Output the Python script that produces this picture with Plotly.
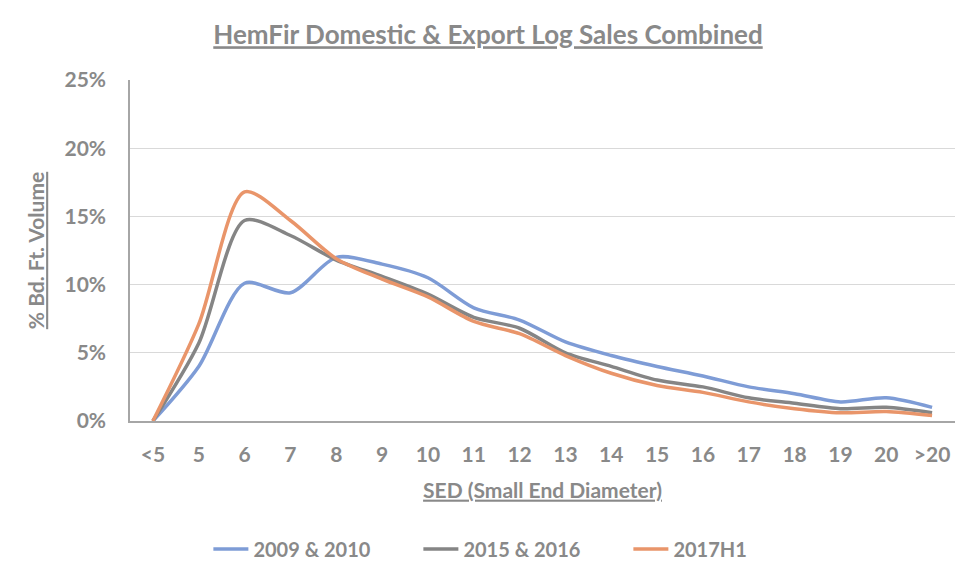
import plotly.graph_objects as go

categories = ["<5", "5", "6", "7", "8", "9", "10", "11", "12", "13", "14", "15", "16", "17", "18", "19", "20", ">20"]
s2009_2010 = [0.0, 4.0, 10.1, 9.4, 12.0, 11.5, 10.5, 8.3, 7.4, 5.8, 4.8, 4.0, 3.3, 2.5, 2.0, 1.4, 1.7, 1.0]
s2015_2016 = [0.0, 5.7, 14.7, 13.6, 11.8, 10.6, 9.3, 7.6, 6.8, 5.0, 4.0, 3.0, 2.5, 1.7, 1.3, 0.9, 1.0, 0.6]
s2017H1 = [0.0, 7.1, 16.8, 14.7, 11.9, 10.4, 9.1, 7.3, 6.4, 4.8, 3.5, 2.6, 2.1, 1.4, 0.9, 0.6, 0.7, 0.4]
series_names = ["2009 & 2010", "2015 & 2016", "2017H1"]
colors = ["#7E9CD6", "#858585", "#E9956A"]

FONT = "Lato"
GRAY = "#898989"

fig = go.Figure()
for name, vals, col in zip(series_names, [s2009_2010, s2015_2016, s2017H1], colors):
    fig.add_trace(go.Scatter(
        x=categories, y=[v / 100 for v in vals], name=name, mode="lines",
        line=dict(color=col, width=3.5, shape="spline", smoothing=0.8),
    ))

fig.update_layout(
    width=976, height=586,
    paper_bgcolor="white", plot_bgcolor="white",
    margin=dict(l=130, r=21, t=80, b=165),
    font=dict(family=FONT, color=GRAY, size=20),
    title=dict(
        text="<b>HemFir Domestic & Export Log Sales Combined</b>",
        x=0.5, xanchor="center", y=0.94, yanchor="middle",
        font=dict(family=FONT, size=26, color=GRAY, lineposition="under"),
    ),
    showlegend=True,
    legend=dict(
        orientation="h", x=0.095, xanchor="left", y=-0.375, yanchor="middle",
        font=dict(family=FONT, size=20, color=GRAY, weight="bold"),
        itemwidth=35, traceorder="normal",
        entrywidth=160, entrywidthmode="pixels",
    ),
    xaxis=dict(
        type="category", range=[-0.5, len(categories) - 0.5], showgrid=False,
        showline=True, linecolor="#A6A6A6", linewidth=1.5,
        ticks="", ticklabelstandoff=14,
        tickfont=dict(family=FONT, size=21, color=GRAY, weight="bold"),
        title=dict(text="<b>SED (Small End Diameter)</b>", standoff=18,
                   font=dict(family=FONT, size=21, color=GRAY, lineposition="under")),
    ),
    yaxis=dict(
        range=[0, 0.25], dtick=0.05, tickformat=".0%",
        showgrid=True, gridcolor="#D9D9D9", gridwidth=1,
        showline=True, linecolor="#A6A6A6", linewidth=1.5,
        zeroline=False, ticks="", ticklabelstandoff=18,
        tickfont=dict(family=FONT, size=21, color=GRAY, weight="bold"),
        title=dict(text="<b>% Bd. Ft. Volume</b>", standoff=14,
                   font=dict(family=FONT, size=21, color=GRAY, lineposition="under")),
    ),
)

fig.write_html("out.html")
